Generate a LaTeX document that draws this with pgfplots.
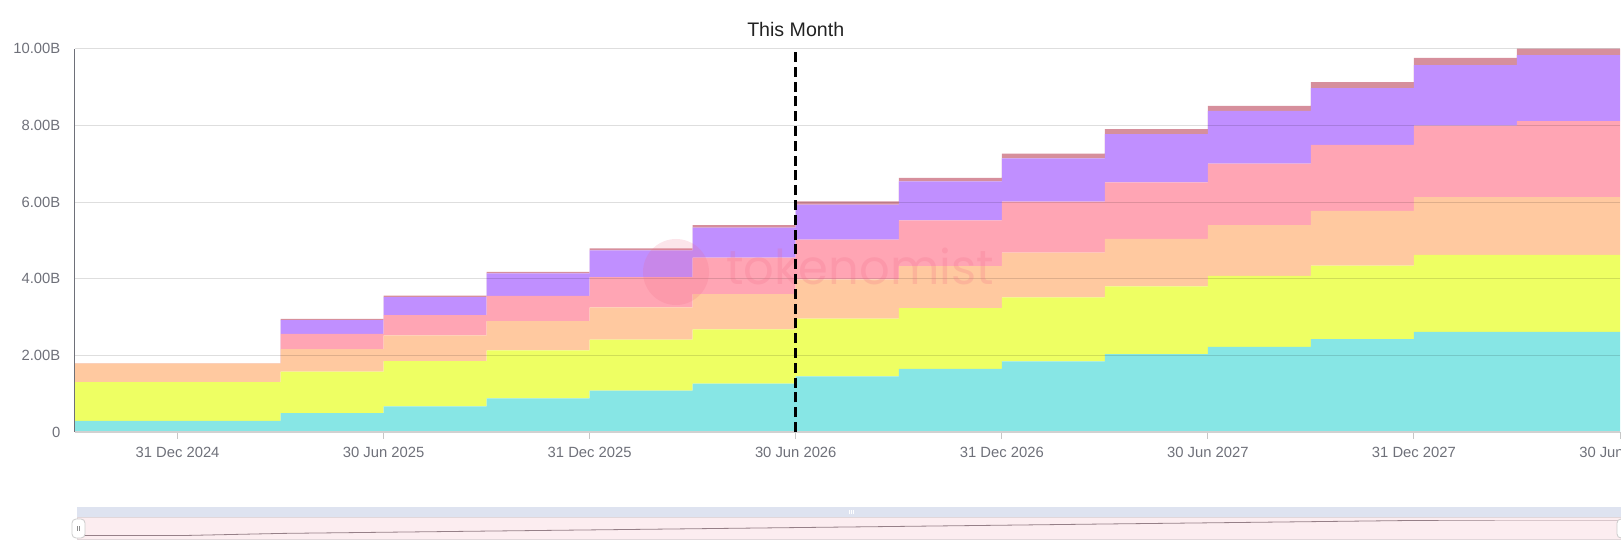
\documentclass[border=0pt]{standalone}
\usepackage{pgfplots}
\usepackage{pgfplotstable}
\pgfplotsset{compat=1.18}
\usepackage{fontspec}
\setmainfont{Liberation Sans}
\newfontfamily\wmfont{Poppins}

\definecolor{cC}{HTML}{87E6E5}
\definecolor{cY}{HTML}{EEFF63}
\definecolor{cP}{HTML}{FFC9A0}
\definecolor{cK}{HTML}{FFA5B4}
\definecolor{cU}{HTML}{C08FFF}
\definecolor{cT}{HTML}{D68F9C}
\definecolor{labelgray}{HTML}{6E7079}
\definecolor{titlecol}{HTML}{222222}
\definecolor{wmpink}{HTML}{F06482}
\definecolor{slblue}{HTML}{DEE3F0}
\definecolor{slpink}{HTML}{FCEDF0}
\definecolor{slborder}{HTML}{E1D7DA}
\definecolor{slline}{HTML}{968088}

% layer thicknesses (billions), one row per quarter step
\pgfplotstableread{
q   C     Y      P      K     U     T
-1  0.29  1.01   0.49   0     0     0
1   0.49  1.085  0.585  0.40  0.36  0.03
2   0.67  1.18   0.67   0.53  0.47  0.04
3   0.88  1.25   0.76   0.66  0.59  0.04
4   1.08  1.33   0.84   0.79  0.70  0.05
5   1.26  1.42   0.92   0.95  0.78  0.07
6   1.45  1.51   1.02   1.04  0.91  0.09
7   1.65  1.58   1.10   1.19  1.02  0.09
8   1.84  1.67   1.17   1.33  1.13  0.12
9   2.03  1.77   1.24   1.47  1.26  0.13
10  2.22  1.85   1.33   1.60  1.38  0.13
11  2.42  1.92   1.43   1.72  1.48  0.16
12  2.61  2.01   1.51   1.86  1.58  0.19
13  2.61  2.01   1.51   1.98  1.72  0.17
14  2.61  2.01   1.51   1.98  1.72  0.17
}\data

\begin{document}
\begin{tikzpicture}
\useasboundingbox (0,0) rectangle (810.5pt,273pt);
\begin{axis}[
  at={(37.25pt,57pt)}, anchor=south west,
  scale only axis, width=772.75pt, height=191.65pt,
  xmin=-1, xmax=14, ymin=0, ymax=10,
  stack plots=y, axis on top, clip=false,
  axis x line*=bottom, axis y line*=left,
  x axis line style={draw=black!18, line width=0.7pt},
  y axis line style={draw=labelgray, line width=0.5pt},
  xtick={0,2,4,6,8,10,12,14},
  xticklabels={31 Dec 2024,30 Jun 2025,31 Dec 2025,30 Jun 2026,31 Dec 2026,30 Jun 2027,31 Dec 2027,30 Jun 2028},
  ytick={0,2,4,6,8,10},
  yticklabels={0,2.00B,4.00B,6.00B,8.00B,10.00B},
  ymajorgrids, major grid style={draw=black, opacity=0.13, line width=0.5pt},
  tick align=outside, major tick length=3.5pt,
  xtick style={draw=black!22, line width=0.5pt},
  ytick style={draw=none},
  ticklabel style={font=\fontsize{7.4}{8}\selectfont, text=labelgray},
  xticklabel style={anchor=base, inner sep=0pt, yshift=-9.2pt},
  yticklabel style={anchor=east, inner sep=0pt, xshift=-3.4pt},
]
\addplot[fill=cC, draw=none, const plot] table[x=q,y=C]{\data} \closedcycle;
\addplot[fill=cY, draw=none, const plot] table[x=q,y=Y]{\data} \closedcycle;
\addplot[fill=cP, draw=none, const plot] table[x=q,y=P]{\data} \closedcycle;
\addplot[fill=cK, draw=none, const plot] table[x=q,y=K]{\data} \closedcycle;
\addplot[fill=cU, draw=none, const plot] table[x=q,y=U]{\data} \closedcycle;
\addplot[fill=cT, draw=none, const plot] table[x=q,y=T]{\data} \closedcycle;
\coordinate (dl0) at (axis cs:6,0);
\coordinate (dl1) at (axis cs:6,10);
\node[font=\fontsize{9.8}{11}\selectfont, text=titlecol] at (axis cs:6,10) [yshift=9.85pt] {This Month};
\end{axis}

% watermark
\fill[wmpink, opacity=0.17] (338pt,137pt) circle (16.5pt);
\node[font=\wmfont\fontsize{24}{26}\selectfont, text=wmpink, opacity=0.2] at (430pt,140pt) {tokenomist};

% "This Month" marker line
\draw[black, line width=1.5pt, dash pattern=on 5pt off 2.4pt] (dl0) -- (dl1);

% data zoom slider
\fill[slblue] (38.5pt,14.5pt) rectangle (812pt,19.5pt);
\filldraw[fill=slpink, draw=slborder, line width=0.5pt] (38.5pt,3.5pt) rectangle (812pt,14.5pt);
\foreach \gx in {424.5pt,425.5pt,426.5pt} \draw[white, line width=0.35pt] (\gx,15.8pt) -- (\gx,18.2pt);
\begin{axis}[
  at={(38.5pt,3.5pt)}, anchor=south west,
  scale only axis, width=771.5pt, height=9.5pt,
  xmin=-1, xmax=14, ymin=0, ymax=10, hide axis,
]
\addplot[draw=slline, line width=0.4pt] coordinates {
(-1,1.79) (0,1.79) (1,2.95) (2,3.56) (3,4.18) (4,4.79) (5,5.40) (6,6.02)
(7,6.63) (8,7.26) (9,7.90) (10,8.51) (11,9.13) (12,9.76) (13,10.0) (14,10.0)};
\end{axis}
\filldraw[fill=white, draw=black!20, line width=0.4pt, rounded corners=2pt] (36pt,4pt) rectangle (42.5pt,13.5pt);
\draw[black!45, line width=0.4pt] (38.6pt,7.6pt) -- (38.6pt,10pt) (39.9pt,7.6pt) -- (39.9pt,10pt);
\filldraw[fill=white, draw=black!20, line width=0.4pt, rounded corners=2pt] (808.5pt,4pt) rectangle (815pt,13.5pt);
\end{tikzpicture}
\end{document}
